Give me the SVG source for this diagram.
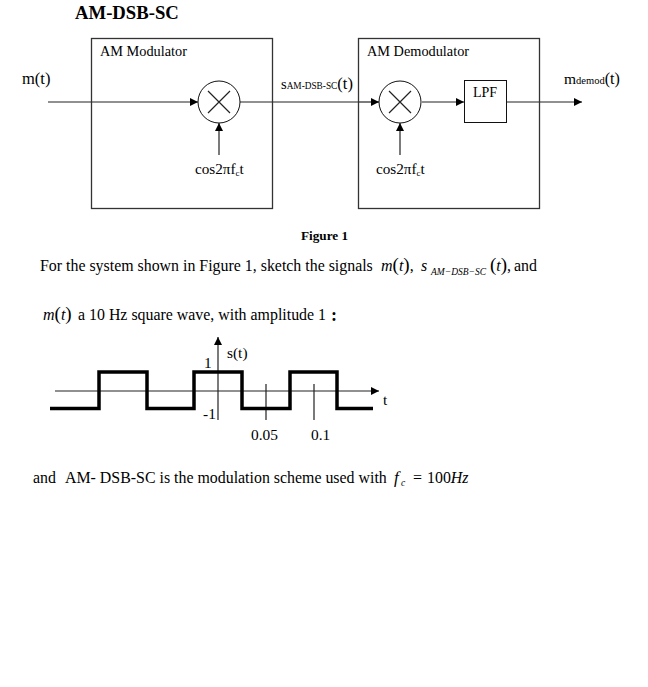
<svg xmlns="http://www.w3.org/2000/svg" width="648" height="687" viewBox="0 0 648 687">
<defs>
<marker id="ah" markerUnits="userSpaceOnUse" markerWidth="9" markerHeight="9" refX="8" refY="4.500" orient="auto"><path d="M0,0.500 L8,4.500 L0,8.500 Z" fill="#000"/></marker>
</defs>
<style>
text{font-family:"Liberation Serif","Times New Roman",serif;fill:#000}
.t{font-size:14.300px}
.box{fill:none;stroke:#333;stroke-width:1.300}
.c{fill:#fff;stroke:#111;stroke-width:1}
.l{fill:none;stroke:#222;stroke-width:1.200}
.a{marker-end:url(#ah)}
.i{font-style:italic}
.p{font-size:15.900px}
.m{font-size:16px;font-style:italic}
.q{font-size:19px;font-style:normal}
.n{font-size:15.400px}
</style>
<rect width="648" height="687" fill="#fff"/>
<text x="75" y="19" font-size="18.700" font-weight="bold">AM-DSB-SC</text>
<g id="connectors">
<path class="l a" d="M48,102 H198"/>
<path class="l" d="M240,102 H358"/>
<path class="l a" d="M358,102 H379"/>
<path class="l a" d="M422,102 H464"/>
<path class="l a" d="M507,102 H582"/>
<path class="l a" d="M219,155 V123"/>
<path class="l a" d="M400,155 V123"/>
</g>
<g id="am-modulator">
<rect class="box" x="91.500" y="38.500" width="181" height="170"/>
<text class="t" x="100" y="56">AM Modulator</text>
</g>
<g id="am-demodulator">
<rect class="box" x="358.500" y="38.500" width="181" height="170"/>
<text class="t" x="367" y="56">AM Demodulator</text>
</g>
<g id="mixer-1">
<circle class="c" cx="219" cy="102" r="21"/>
<path class="l" d="M208,91 L230,113 M230,91 L208,113"/>
</g>
<g id="mixer-2">
<circle class="c" cx="400" cy="102" r="21"/>
<path class="l" d="M389,91 L411,113 M411,91 L389,113"/>
</g>
<g id="lpf">
<rect class="c" x="464.500" y="80.500" width="42" height="42"/>
<text x="473" y="97" font-size="14">LPF</text>
</g>
<g id="labels">
<text x="22" y="84" font-size="16.500">m(t)</text>
<text x="281" y="89" font-size="14.500">s<tspan font-size="9.300">AM-DSB-SC</tspan><tspan font-size="16.500">(t)</tspan></text>
<text x="564" y="84" font-size="15.500">m<tspan font-size="10.500">demod</tspan><tspan font-size="16">(t)</tspan></text>
<text x="195" y="174" font-size="15.200">cos2πf<tspan font-size="9" dy="2">c</tspan><tspan dy="-2">t</tspan></text>
<text x="376" y="174" font-size="15.200">cos2πf<tspan font-size="9" dy="2">c</tspan><tspan dy="-2">t</tspan></text>
<text x="301" y="240" font-size="13.200" font-weight="bold">Figure 1</text>
</g>
<g id="body">
<text class="p" x="40" y="271">For the system shown in Figure 1, sketch the signals</text>
<text class="m" x="381" y="271">m<tspan class="q">(</tspan>t<tspan class="q">)</tspan><tspan font-style="normal">,</tspan></text>
<text class="m" x="421" y="271">s</text>
<text x="431" y="275" font-size="9.500" class="i">AM−DSB−SC</text>
<text class="m" x="490" y="271"><tspan class="q">(</tspan>t<tspan class="q">)</tspan><tspan font-style="normal">,</tspan></text>
<text class="p" x="514" y="271">and</text>
<text class="m" x="43" y="320">m<tspan class="q">(</tspan>t<tspan class="q">)</tspan></text>
<text class="p" x="78" y="320">a 10 Hz square wave, with amplitude 1</text>
<text x="331" y="321" font-size="18" font-weight="bold">:</text>
<text class="p" x="33" y="483">and</text>
<text class="p" x="65" y="483">AM- DSB-SC is the modulation scheme used with</text>
<text x="394" y="483" font-size="17" class="i">f</text>
<text x="401" y="486" font-size="9.500" class="i">c</text>
<text class="p" x="413" y="483">=</text>
<text class="p" x="427" y="483">100<tspan class="i">Hz</tspan></text>
</g>
<g id="chart">
<path class="l a" d="M218,420 V337"/>
<path class="l a" d="M55,391 H379"/>
<path class="l" d="M266,384 V420 M314,384 V420"/>
<path fill="none" stroke="#000" stroke-width="3.500" d="M50,408.500 H99 V372 H147 V408.500 H194 V372 H242 V408.500 H290 V372 H337 V408.500 H373"/>
<text class="n" x="227" y="358">s(t)</text>
<text class="n" x="204" y="368">1</text>
<text class="n" x="203" y="419">-1</text>
<text class="n" x="383" y="405">t</text>
<text class="n" x="251" y="440">0.05</text>
<text class="n" x="311" y="440">0.1</text>
</g>
</svg>
